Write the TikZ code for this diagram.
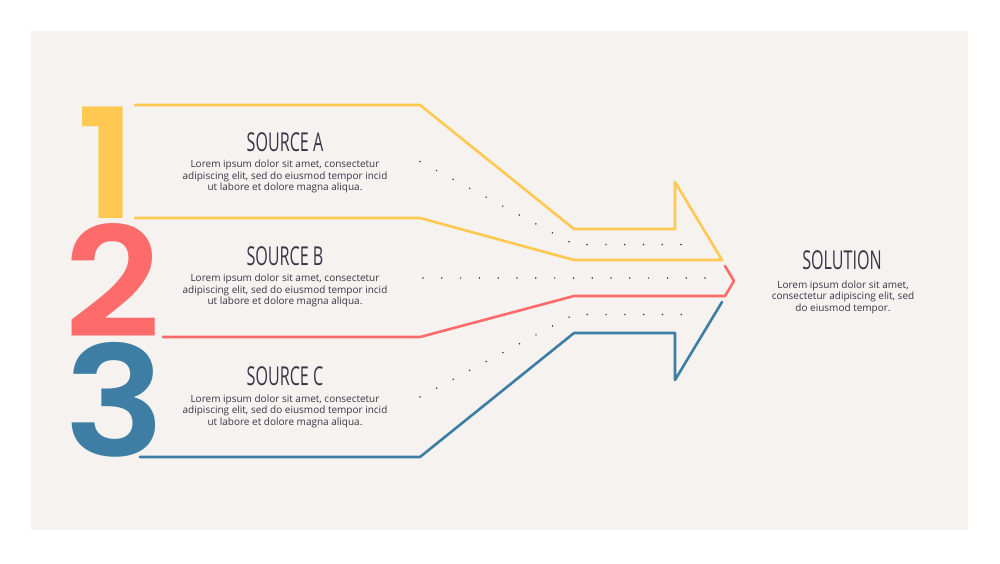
\documentclass[tikz,border=0pt]{standalone}
\usepackage{fontspec}
\setmainfont{Open Sans}
\newfontfamily\headfont[FakeStretch=0.62]{Open Sans}
\newfontfamily\numfont[FakeStretch=1.1]{Poppins SemiBold}
\usetikzlibrary{positioning, calc}
\definecolor{panelbg}{RGB}{245, 242, 239}
\definecolor{srcyellow}{RGB}{255, 200, 80}
\definecolor{srcred}{RGB}{253, 107, 107}
\definecolor{srcblue}{RGB}{62, 126, 165}
\definecolor{inktext}{RGB}{62, 51, 70}
\definecolor{dotgray}{RGB}{60, 55, 65}

\begin{document}
\begin{tikzpicture}[x=1pt, y=-1pt,
        digit/.style={inner sep=0pt, anchor=base, text height=111pt, text depth=0pt,
            font=\numfont\fontsize{153}{153}\selectfont},
        title/.style={inner sep=0pt, anchor=base, text=inktext, font=\headfont\fontsize{26}{26}\selectfont},
        desc/.style={inner sep=0pt, align=center, text=inktext, font=\fontsize{10}{11.4}\selectfont},
        band/.style={line width=2.6pt, line cap=round, line join=round},
        dots/.style={dotgray, line width=1.7pt, line cap=round, dash pattern=on 0pt off 18.8pt}
    ]
        % Canvas
        \useasboundingbox (0,0) rectangle (1000,563);
        \fill[white] (0,0) rectangle (1000,563);
        \fill[panelbg] (31,31) rectangle (968,530);

        % Numbers
        \node[digit, text=srcyellow] (n1) at (107,218) {1};
        \node[digit, text=srcred] (n2) at (113,337) {2};
        \node[digit, text=srcblue] (n3) at (115,456) {3};

        % Arrow bands
        \draw[band, srcyellow] (135,105) -- (420,105) -- (574,229) -- (675,229) -- (675,182)
            -- (722,260) -- (574,260) -- (420,218) -- (135,218);
        \draw[band, srcred] (163,337) -- (420,337) -- (574,296) -- (725,296) -- (734,281) -- (725,266);
        \draw[band, srcblue] (140,457) -- (420,457) -- (574,333) -- (675,333) -- (675,380) -- (722,302);

        % Dotted guides
        \draw[dots] (420,161.5) -- (574,244.5) -- (690,244.5);
        \draw[dots] (423,278) -- (712,278);
        \draw[dots] (420,397) -- (574,314.5) -- (690,314.5);

        % Source A
        \node[title] (titleA) at (285,151.7) {SOURCE A};
        \node[desc] (descA) at (285,176.5) {Lorem ipsum dolor sit amet, consectetur\\adipiscing elit, sed do eiusmod tempor incid\\ut labore et dolore magna aliqua.};

        % Source B
        \node[title] (titleB) at (285,265.7) {SOURCE B};
        \node[desc] (descB) at (285,290.5) {Lorem ipsum dolor sit amet, consectetur\\adipiscing elit, sed do eiusmod tempor incid\\ut labore et dolore magna aliqua.};

        % Source C
        \node[title] (titleC) at (285,385) {SOURCE C};
        \node[desc] (descC) at (285,411) {Lorem ipsum dolor sit amet, consectetur\\adipiscing elit, sed do eiusmod tempor incid\\ut labore et dolore magna aliqua.};

        % Solution
        \node[title] (titleSol) at (842,269.3) {SOLUTION};
        \node[desc] (descSol) at (843,297) {Lorem ipsum dolor sit amet,\\consectetur adipiscing elit, sed\\do eiusmod tempor.};
    \end{tikzpicture}
\end{document}
